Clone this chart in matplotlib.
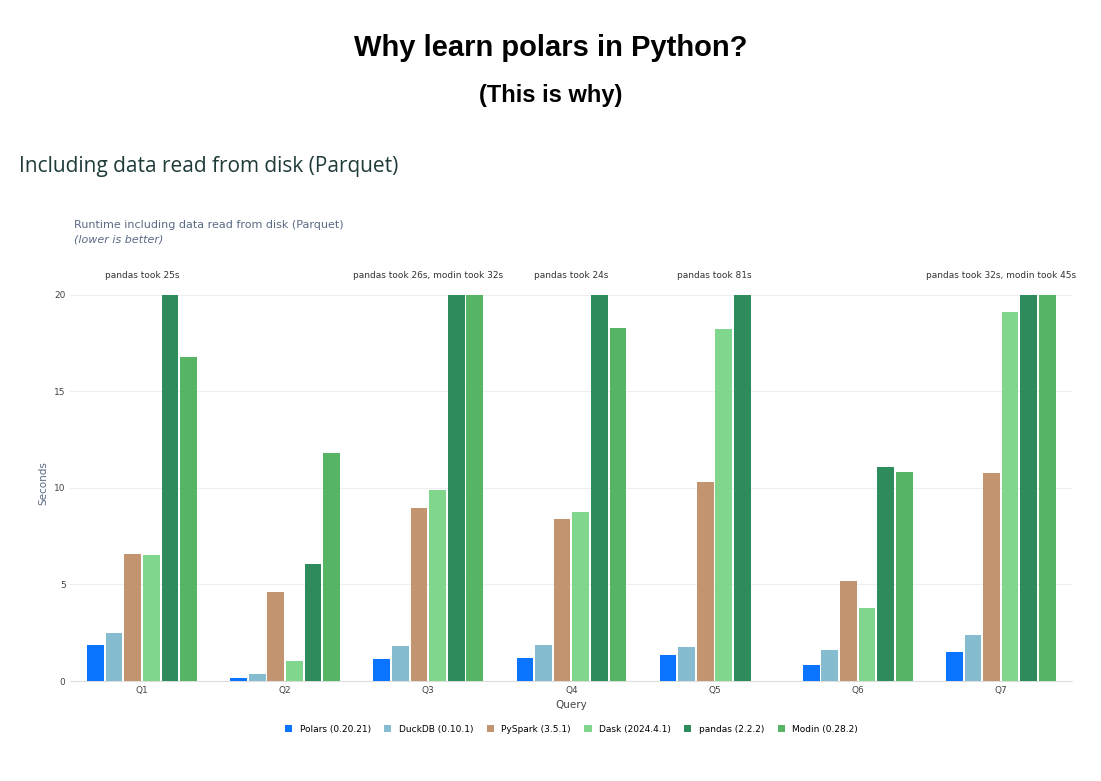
import numpy as np
import matplotlib
matplotlib.use("Agg")
import matplotlib.pyplot as plt

queries = ["Q1", "Q2", "Q3", "Q4", "Q5", "Q6", "Q7"]
series = ["Polars (0.20.21)", "DuckDB (0.10.1)", "PySpark (3.5.1)", "Dask (2024.4.1)", "pandas (2.2.2)", "Modin (0.28.2)"]
polars = [1.85, 0.15, 1.15, 1.2, 1.35, 0.85, 1.5]
duckdb = [2.5, 0.35, 1.8, 1.85, 1.75, 1.6, 2.4]
pyspark = [6.6, 4.6, 8.95, 8.4, 10.3, 5.2, 10.75]
dask = [6.5, 1.05, 9.9, 8.75, 18.2, 3.8, 19.1]
pandas_ = [20, 6.05, 20, 20, 20, 11.1, 20]
modin = [16.8, 11.8, 20, 18.3, np.nan, 10.8, 20]
notes = ["pandas took 25s", "", "pandas took 26s, modin took 32s", "pandas took 24s", "pandas took 81s", "", "pandas took 32s, modin took 45s"]
colors = ["#0a74ff", "#86bccf", "#c39470", "#7fd68c", "#2e8b5c", "#55b565"]

fig = plt.figure(figsize=(11.01, 7.81), dpi=100)
fig.text(0.5, 0.928, "Why learn polars in Python?", ha="center", fontsize=21, fontweight="bold", family="Liberation Sans")
fig.text(0.5, 0.87, "(This is why)", ha="center", fontsize=17, fontweight="bold", family="Liberation Sans")
fig.text(0.017, 0.78, "Including data read from disk (Parquet)", fontsize=15, color="#1f3a3a", family="Open Sans")
fig.text(0.067, 0.708, "Runtime including data read from disk (Parquet)", fontsize=8, color="#5a6a85")
fig.text(0.067, 0.69, "(lower is better)", fontsize=8, color="#5a6a85", style="italic")

ax = fig.add_axes([0.064, 0.128, 0.91, 0.507])
x = np.arange(len(queries))
w = 0.13
for i, (vals, name) in enumerate(zip([polars, duckdb, pyspark, dask, pandas_, modin], series)):
    ax.bar(x + (i - 2.5) * w, vals, w * 0.9, color=colors[i], label=name, zorder=3)
for xi, n in zip(x, notes):
    if n:
        ax.text(xi, 21.0, n, ha="center", va="center", fontsize=6.5, color="#333333")
ax.set_xlim(-0.5, 6.5)
ax.set_ylim(0, 20.5)
ax.set_yticks([0, 5, 10, 15, 20])
ax.set_xticks(x)
ax.set_xticklabels(queries)
ax.tick_params(labelsize=6.5, colors="#444444", length=0)
ax.grid(axis="y", color="#eeeeee", zorder=0)
for s in ["top", "right", "left"]:
    ax.spines[s].set_visible(False)
ax.spines["bottom"].set_color("#dddddd")
ax.set_xlabel("Query", fontsize=7.5, color="#444444")
ax.set_ylabel("Seconds", fontsize=7.5, color="#5a6a85")
ax.legend(loc="upper center", bbox_to_anchor=(0.5, -0.09), ncol=6, frameon=False, fontsize=6.5,
          handlelength=0.8, handleheight=0.8, columnspacing=1.5)
fig.savefig("out.png", dpi=100)
